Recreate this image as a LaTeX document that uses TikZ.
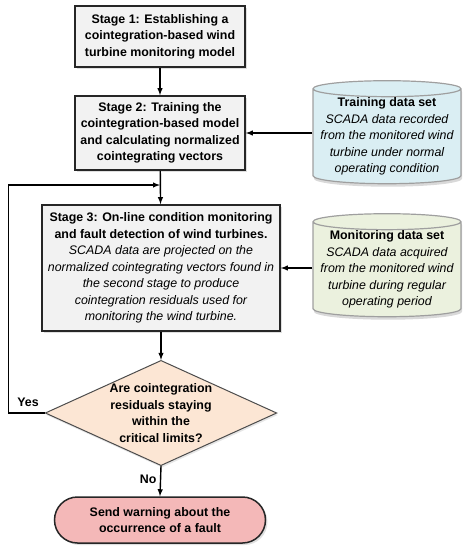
\documentclass[tikz,border=0pt]{standalone}
\usepackage{fontspec}
\setmainfont{Liberation Sans}
\usetikzlibrary{shapes.geometric,shapes.misc,shadows}
\definecolor{boxgray}{HTML}{F2F2F2}
\definecolor{trainblue}{HTML}{DAEEF3}
\definecolor{monigreen}{HTML}{EBF1DE}
\definecolor{decpeach}{HTML}{FCE6D4}
\definecolor{warnpink}{HTML}{F4B8B8}
\newcommand{\desc}[1]{{\mdseries\itshape #1}}

\begin{document}
\begin{tikzpicture}[x=1pt,y=-1pt,
    every node/.style={font=\fontsize{12.4}{16.5}\selectfont\bfseries, align=center},
    stage/.style={draw=black!85, line width=1.6pt, fill=boxgray, inner sep=0pt,
        drop shadow={opacity=0.25, shadow xshift=2pt, shadow yshift=-2pt}},
    dataset/.style={cylinder, shape border rotate=90, aspect=0.12, draw=gray!75,
        line width=1.2pt, minimum width=148pt, minimum height=103pt, inner sep=0pt,
        drop shadow={opacity=0.3, shadow xshift=1pt, shadow yshift=-3pt}},
    arr/.style={->, >=latex, line width=1.4pt}]
    \useasboundingbox (0,0) rectangle (467,550);

    % main column
    \node[stage, minimum width=170pt, minimum height=61pt] (s1) at (160,36.5)
        {Stage 1: Establishing a\\ cointegration-based wind\\ turbine monitoring model};
    \node[stage, minimum width=170pt, minimum height=74pt] (s2) at (160,133)
        {Stage 2: Training the\\ cointegration-based model\\ and calculating normalized\\ cointegrating vectors};
    \node[stage, minimum width=238pt, minimum height=126pt] (s3) at (161,268)
        {Stage 3: On-line condition monitoring\\ and fault detection of wind turbines.\\
         \desc{SCADA data are projected on the}\\
         \desc{normalized cointegrating vectors found in}\\
         \desc{the second stage to produce}\\
         \desc{cointegration residuals used for}\\
         \desc{monitoring the wind turbine.}};
    \node[diamond, aspect=2.2, inner sep=0pt, draw=black!70, line width=1pt, fill=decpeach,
        drop shadow={opacity=0.2, shadow xshift=1pt, shadow yshift=-2pt}] (dec) at (161,413)
        {Are cointegration\\ residuals staying\\ within the\\ critical limits?};
    \node[rounded rectangle, draw=black!85, line width=1.5pt, fill=warnpink,
        minimum width=211pt, minimum height=46pt, inner sep=0pt,
        drop shadow={opacity=0.25, shadow xshift=2pt, shadow yshift=-2pt}] (warn) at (160,520)
        {Send warning about the\\ occurrence of a fault};

    % data sets
    \node[dataset, fill=trainblue] (train) at (387,136.5)
        {Training data set\\ \desc{SCADA data recorded}\\ \desc{from the monitored wind}\\
         \desc{turbine under normal}\\ \desc{operating condition}};
    \node[dataset, fill=monigreen] (moni) at (387,269.5)
        {Monitoring data set\\ \desc{SCADA data acquired}\\ \desc{from the monitored wind}\\
         \desc{turbine during regular}\\ \desc{operating period}};

    \coordinate (join) at (160,185);
    \draw[arr] (s1) -- (s2);
    \draw[arr] (s2) -- (s3);
    \draw[arr] (s2.east -| train.west) -- (s2.east);
    \draw[arr] (s3.east -| moni.west) -- (s3.east);
    \draw[arr] (s3) -- (dec);
    \draw[arr] (dec.south) -- (warn.north) node[pos=0.45, left] {No};
    \draw[arr] (dec.west) -- ++(-36,0) |- (join);
    \node (yes) at (28,402) {Yes};

\end{tikzpicture}
\end{document}
